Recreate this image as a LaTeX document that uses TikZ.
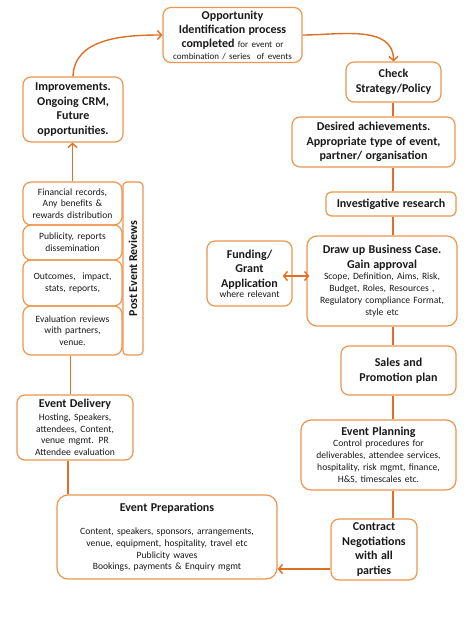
\documentclass[tikz,border=0pt]{standalone}
\usepackage{fontspec}
\setmainfont{Carlito}
\usetikzlibrary{arrows.meta}
\definecolor{boxc}{RGB}{236,150,78}
\definecolor{linec}{RGB}{222,112,38}
\definecolor{txt}{RGB}{25,25,25}
\newcommand\bt{\fontsize{12}{14.5}\selectfont\bfseries}
\newcommand\st{\fontsize{9.6}{11.7}\selectfont\mdseries}
\begin{document}
\begin{tikzpicture}[x=1pt,y=-1pt,
  box/.style={draw=boxc,line width=1.2pt,rounded corners=8pt,align=center,inner sep=0pt,text=txt},
  conn/.style={draw=linec,line width=1.4pt},
  arr/.style={conn,-{Straight Barb[length=4pt,width=9pt]}},
  dbl/.style={conn,{Straight Barb[length=4pt,width=9pt]}-{Straight Barb[length=4pt,width=9pt]}}]
\useasboundingbox (0,0) rectangle (474,632);
\fill[white] (0,0) rectangle (474,632);
\coordinate (col) at (393,0);

% top
\node[box,minimum width=139pt,minimum height=55pt,text width=137pt] (opp) at (232.5,35)
  {\fontsize{12}{14}\selectfont\bfseries Opportunity\\Identification process\\completed {\fontsize{9}{11}\selectfont\mdseries for event or}\par
   \vspace{-1pt}\fontsize{9}{13}\selectfont\mdseries combination / series~ of events\par};
\node[box,minimum width=95pt,minimum height=40pt,text width=91pt] (check) at (393.5,82)
  {\bt Check\\Strategy/Policy\par};
\node[box,minimum width=100pt,minimum height=65pt,text width=98pt] (impr) at (73,109.5)
  {\bt Improvements.\\Ongoing CRM,\\Future\\opportunities.\par};

% right column
\node[box,minimum width=163pt,minimum height=50pt,text width=161pt] (desired) at (373.5,142)
  {\bt Desired achievements.\\Appropriate type of event,\\partner/ organisation\par};
\node[box,minimum width=130pt,minimum height=24pt,text width=126pt,rounded corners=5pt] (invest) at (391,204)
  {\bt Investigative research\par};
\node[box,minimum width=150pt,minimum height=90pt,text width=148pt,rounded corners=10pt] (bcase) at (382,281)
  {\bt Draw up Business Case.\\Gain approval\par\st Scope, Definition, Aims, Risk,\\Budget, Roles, Resources ,\\Regulatory compliance Format,\\style etc\par};
\node[box,minimum width=85pt,minimum height=65pt,text width=83pt] (fund) at (249.5,273.5)
  {\bt Funding/\\Grant\\Application\par\vspace{-1.5pt}\st where relevant\par};
\node[box,minimum width=115pt,minimum height=49pt,text width=111pt] (sales) at (398.5,370.5)
  {\bt Sales and\\Promotion plan\par};
\node[box,minimum width=155pt,minimum height=70pt,text width=153pt,rounded corners=10pt] (plan) at (378.5,455)
  {\bt Event Planning\par\st Control procedures for\\deliverables, attendee services,\\hospitality, risk mgmt, finance,\\H\&S, timescales etc.\par};
\node[box,minimum width=86pt,minimum height=61pt,text width=84pt] (contract) at (374,549.5)
  {\bt Contract\\Negotiations\\with all\\parties\par};

% bottom / left
\node[box,minimum width=220pt,minimum height=84pt,text width=216pt,rounded corners=11pt] (prep) at (167,537)
  {\bt Event Preparations\par\vspace{12pt}\st Content, speakers, sponsors, arrangements,\\venue, equipment, hospitality, travel etc\\Publicity waves\\Bookings, payments \& Enquiry mgmt\par};
\node[box,minimum width=116pt,minimum height=65pt,text width=114pt] (deliv) at (75,427.5)
  {\bt Event Delivery\par\vspace{1pt}\st Hosting, Speakers,\\attendees, Content,\\venue mgmt. PR\\Attendee evaluation\par};

% post event reviews
\node[box,minimum width=99pt,minimum height=43pt,text width=97pt] (r1) at (72.5,203.5)
  {\st Financial records,\\Any benefits \&\\rewards distribution\par};
\node[box,minimum width=99pt,minimum height=35pt,text width=97pt] (r2) at (72.5,242.5)
  {\st Publicity, reports\\dissemination\par};
\node[box,minimum width=99pt,minimum height=46pt,text width=97pt] (r3) at (72.5,283)
  {\st Outcomes,\ \ impact,\\stats, reports,\par};
\node[box,minimum width=99pt,minimum height=49pt,text width=97pt] (r4) at (72.5,330.5)
  {\st Evaluation reviews\\with partners,\\venue.\par};
\node[box,rotate=90,minimum width=173pt,minimum height=20pt,rounded corners=4pt] (side) at (133,268.5)
  {\fontsize{12}{14}\selectfont\bfseries Post Event Reviews};

% helper coordinates
\coordinate (fa) at ([xshift=-10pt,yshift=-2.5pt]fund.east);
\coordinate (ba) at ([xshift=3pt]bcase.west |- fa);
\coordinate (ca) at ([yshift=-19.5pt]contract.west);
\coordinate (pa) at (prep.east |- ca);

% connectors
\draw[arr] (impr.north) to[out=88,in=180] (opp.west);
\draw[arr] (opp.east) to[out=0,in=90] (check.north);
\draw[conn] (col |- check.south) -- (col |- desired.north);
\draw[conn] (col |- desired.south) -- (col |- invest.north);
\draw[conn] (col |- invest.south) -- (col |- bcase.north);
\draw[conn] (col |- bcase.south) -- (col |- sales.north);
\draw[conn] (col |- sales.south) -- (col |- plan.north);
\draw[conn] (col |- plan.south) -- (col |- contract.north);
\draw[dbl] (fa) -- (ba);
\draw[arr] (ca) -- (pa);
\draw[arr] (r1.north) -- (r1.north |- impr.south);
\draw[conn] ([xshift=-2pt]r4.south) -- ([xshift=-2pt]r4.south |- deliv.north);
\draw[conn] ([xshift=-7pt]deliv.south) -- ([xshift=-7pt]deliv.south |- prep.north);
\end{tikzpicture}
\end{document}
